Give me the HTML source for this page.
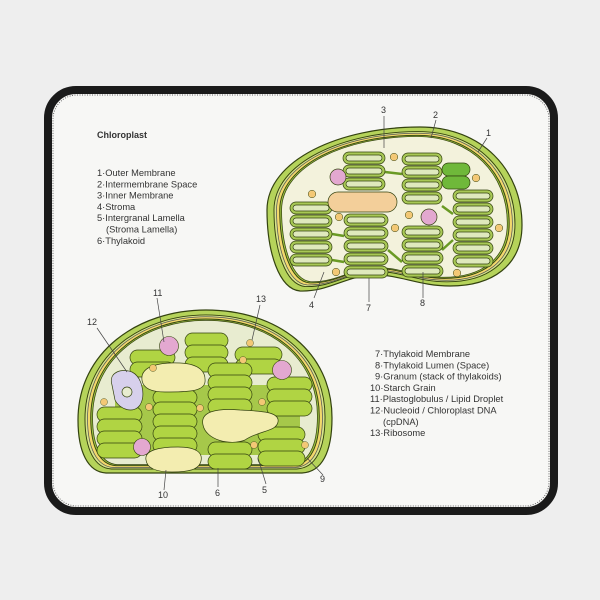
<!DOCTYPE html>
<html><head><meta charset="utf-8"><style>
body{margin:0;background:#eeeeee}
svg{display:block}
text{font-family:"Liberation Sans",sans-serif;fill:#333}
</style></head><body>
<svg width="600" height="600" viewBox="0 0 600 600" xmlns="http://www.w3.org/2000/svg">
<defs>
<path id="top" d="M267,210 C267,160 340,127 420,127 C482,127 522,170 522,225 C522,266 492,286 450,286 C420,286 400,275 376,275 C346,275 330,292 300,291 C279,289 267,252 267,210 Z"/>
<path id="bot" d="M78,420 C78,352 138,310 206,310 C278,310 332,352 332,418 C332,452 322,472 302,473 L106,473 C88,472 78,452 78,420 Z"/>
</defs>
<rect x="0" y="0" width="600" height="600" fill="#eeeeee"/>
<rect x="48" y="90" width="506" height="421" rx="28" fill="#f7f7f5" stroke="#1a1a1a" stroke-width="8"/>
<rect x="53" y="95" width="496" height="411" rx="24" fill="none" stroke="#666" stroke-width="1" stroke-dasharray="1 1.5"/>

<text x="97" y="138" font-size="9" font-weight="bold">Chloroplast</text>
<g font-size="9.3">
<text x="97" y="176">1·Outer Membrane</text>
<text x="97" y="187.3">2·Intermembrane Space</text>
<text x="97" y="198.6">3·Inner Membrane</text>
<text x="97" y="209.9">4·Stroma</text>
<text x="97" y="221.2">5·Intergranal Lamella</text>
<text x="106" y="232.5">(Stroma Lamella)</text>
<text x="97" y="243.8">6·Thylakoid</text>
<text x="375" y="357">7·Thylakoid Membrane</text>
<text x="375" y="368.3">8·Thylakoid Lumen (Space)</text>
<text x="375" y="379.6">9·Granum (stack of thylakoids)</text>
<text x="370" y="390.9">10·Starch Grain</text>
<text x="370" y="402.2">11·Plastoglobulus / Lipid Droplet</text>
<text x="370" y="413.5">12·Nucleoid / Chloroplast DNA</text>
<text x="383" y="424.8">(cpDNA)</text>
<text x="370" y="436.1">13·Ribosome</text>
</g>

<!-- TOP CHLOROPLAST -->
<use href="#top" fill="#b5d35a" stroke="#33420f" stroke-width="1.2"/>
<g transform="translate(394,210) scale(0.945) translate(-394,-210)"><use href="#top" fill="#d8e48a" stroke="#33420f" stroke-width="1"/></g>
<g transform="translate(394,210) scale(0.925) translate(-394,-210)"><use href="#top" fill="#f2d86c" stroke="#555" stroke-width="0.8"/></g>
<g transform="translate(394,210) scale(0.9) translate(-394,-210)"><use href="#top" fill="#9cc040" stroke="#33420f" stroke-width="1"/></g>
<g transform="translate(394,210) scale(0.885) translate(-394,-210)"><use href="#top" fill="#f3f2dc" stroke="#33420f" stroke-width="0.8"/></g>
<g stroke="#6a9a24" stroke-width="2.5" fill="none">
<path d="M385,172 L402,174"/><path d="M332,234 L344,236"/><path d="M388,250 L402,262"/><path d="M442,250 L453,240"/><path d="M442,206 L453,214"/><path d="M332,260 L344,262"/>
</g>
<g stroke="#33420f" stroke-width="0.7">
<g fill="#a8c855">
<rect x="343" y="152" width="42" height="12" rx="6"/><rect x="343" y="165" width="42" height="12" rx="6"/><rect x="343" y="178" width="42" height="12" rx="6"/>
<rect x="402" y="153" width="40" height="12" rx="6"/><rect x="402" y="166" width="40" height="12" rx="6"/><rect x="402" y="179" width="40" height="12" rx="6"/><rect x="402" y="192" width="40" height="12" rx="6"/>
<rect x="453" y="190" width="40" height="12" rx="6"/><rect x="453" y="203" width="40" height="12" rx="6"/><rect x="453" y="216" width="40" height="12" rx="6"/><rect x="453" y="229" width="40" height="12" rx="6"/><rect x="453" y="242" width="40" height="12" rx="6"/><rect x="453" y="255" width="40" height="12" rx="6"/>
<rect x="290" y="202" width="42" height="12" rx="6"/><rect x="290" y="215" width="42" height="12" rx="6"/><rect x="290" y="228" width="42" height="12" rx="6"/><rect x="290" y="241" width="42" height="12" rx="6"/><rect x="290" y="254" width="42" height="12" rx="6"/>
<rect x="344" y="214" width="44" height="12" rx="6"/><rect x="344" y="227" width="44" height="12" rx="6"/><rect x="344" y="240" width="44" height="12" rx="6"/><rect x="344" y="253" width="44" height="12" rx="6"/><rect x="344" y="266" width="44" height="12" rx="6"/>
<rect x="402" y="226" width="41" height="12" rx="6"/><rect x="402" y="239" width="41" height="12" rx="6"/><rect x="402" y="252" width="41" height="12" rx="6"/><rect x="402" y="265" width="41" height="12" rx="6"/>
</g>
<g fill="#dfe9bd">
<rect x="346" y="155" width="36" height="6" rx="3"/><rect x="346" y="168" width="36" height="6" rx="3"/><rect x="346" y="181" width="36" height="6" rx="3"/>
<rect x="405" y="156" width="34" height="6" rx="3"/><rect x="405" y="169" width="34" height="6" rx="3"/><rect x="405" y="182" width="34" height="6" rx="3"/><rect x="405" y="195" width="34" height="6" rx="3"/>
<rect x="456" y="193" width="34" height="6" rx="3"/><rect x="456" y="206" width="34" height="6" rx="3"/><rect x="456" y="219" width="34" height="6" rx="3"/><rect x="456" y="232" width="34" height="6" rx="3"/><rect x="456" y="245" width="34" height="6" rx="3"/><rect x="456" y="258" width="34" height="6" rx="3"/>
<rect x="293" y="205" width="36" height="6" rx="3"/><rect x="293" y="218" width="36" height="6" rx="3"/><rect x="293" y="231" width="36" height="6" rx="3"/><rect x="293" y="244" width="36" height="6" rx="3"/><rect x="293" y="257" width="36" height="6" rx="3"/>
<rect x="347" y="217" width="38" height="6" rx="3"/><rect x="347" y="230" width="38" height="6" rx="3"/><rect x="347" y="243" width="38" height="6" rx="3"/><rect x="347" y="256" width="38" height="6" rx="3"/><rect x="347" y="269" width="38" height="6" rx="3"/>
<rect x="405" y="229" width="35" height="6" rx="3"/><rect x="405" y="242" width="35" height="6" rx="3"/><rect x="405" y="255" width="35" height="6" rx="3"/><rect x="405" y="268" width="35" height="6" rx="3"/>
</g>
<rect x="442" y="163" width="28" height="13" rx="6.5" fill="#6fb83a"/><rect x="442" y="176" width="28" height="13" rx="6.5" fill="#6fb83a"/>
<rect x="328" y="192" width="69" height="20" rx="10" fill="#f3cf9a"/>
<circle cx="338" cy="177" r="8" fill="#e3a8d0"/><circle cx="429" cy="217" r="8" fill="#e3a8d0"/>
<g fill="#f3c875" stroke-width="0.5">
<circle cx="394" cy="157" r="3.8"/><circle cx="312" cy="194" r="3.8"/><circle cx="339" cy="217" r="3.8"/><circle cx="409" cy="215" r="3.8"/><circle cx="395" cy="228" r="3.8"/><circle cx="336" cy="272" r="3.8"/><circle cx="457" cy="273" r="3.8"/><circle cx="499" cy="228" r="3.8"/><circle cx="476" cy="178" r="3.8"/>
</g>
</g>

<!-- BOTTOM CHLOROPLAST -->
<use href="#bot" fill="#b5d35a" stroke="#33420f" stroke-width="1.2"/>
<g transform="translate(205,400) scale(0.945) translate(-205,-400)"><use href="#bot" fill="#d8e48a" stroke="#33420f" stroke-width="1"/></g>
<g transform="translate(205,400) scale(0.925) translate(-205,-400)"><use href="#bot" fill="#f2d86c" stroke="#555" stroke-width="0.8"/></g>
<g transform="translate(205,400) scale(0.9) translate(-205,-400)"><use href="#bot" fill="#9cc040" stroke="#33420f" stroke-width="1"/></g>
<g transform="translate(205,400) scale(0.885) translate(-205,-400)"><use href="#bot" fill="#e8ecd0" stroke="#33420f" stroke-width="0.8"/></g>
<rect x="115" y="385" width="185" height="70" fill="#a6c84a"/>
<g stroke="#33420f" stroke-width="0.7" fill="#b0d443">
<rect x="130" y="350" width="45" height="15" rx="7.5"/><rect x="130" y="362" width="45" height="15" rx="7.5"/>
<rect x="185" y="333" width="43" height="15" rx="7.5"/><rect x="185" y="345" width="43" height="15" rx="7.5"/><rect x="185" y="357" width="43" height="15" rx="7.5"/>
<rect x="235" y="347" width="47" height="15" rx="7.5"/><rect x="235" y="359" width="47" height="15" rx="7.5"/>
<rect x="97" y="407" width="45" height="15" rx="7.5"/><rect x="97" y="419" width="45" height="15" rx="7.5"/><rect x="97" y="431" width="45" height="15" rx="7.5"/><rect x="97" y="443" width="45" height="15" rx="7.5"/>
<rect x="153" y="390" width="44" height="15" rx="7.5"/><rect x="153" y="402" width="44" height="15" rx="7.5"/><rect x="153" y="414" width="44" height="15" rx="7.5"/><rect x="153" y="426" width="44" height="15" rx="7.5"/><rect x="153" y="438" width="44" height="15" rx="7.5"/>
<rect x="208" y="363" width="44" height="15" rx="7.5"/><rect x="208" y="375" width="44" height="15" rx="7.5"/><rect x="208" y="387" width="44" height="15" rx="7.5"/><rect x="208" y="399" width="44" height="15" rx="7.5"/>
<rect x="208" y="442" width="44" height="15" rx="7.5"/><rect x="208" y="454" width="44" height="15" rx="7.5"/>
<rect x="267" y="377" width="45" height="15" rx="7.5"/><rect x="267" y="389" width="45" height="15" rx="7.5"/><rect x="267" y="401" width="45" height="15" rx="7.5"/>
<rect x="258" y="427" width="47" height="15" rx="7.5"/><rect x="258" y="439" width="47" height="15" rx="7.5"/><rect x="258" y="451" width="47" height="15" rx="7.5"/>
</g>
<g stroke="#33420f" stroke-width="0.7" fill="#f3edb0">
<path d="M142,380 C140,366 160,362 180,363 C200,364 206,372 205,382 C204,392 185,392 165,392 C150,392 143,388 142,380 Z"/>
<path d="M203,425 C200,412 215,408 240,410 C262,411 280,412 278,422 C276,432 260,430 245,440 C230,446 206,440 203,425 Z"/>
<path d="M146,460 C144,450 160,447 178,447 C195,447 203,452 201,461 C199,470 188,472 172,472 C156,472 147,468 146,460 Z"/>
<path d="M112,385 C108,372 122,368 132,372 C142,377 146,395 140,405 C134,414 120,410 115,400 Z" fill="#d7d0ec"/>
<circle cx="127" cy="392" r="5" fill="#e8ecd0"/>
</g>
<g stroke="#33420f" stroke-width="0.6">
<circle cx="169" cy="346" r="9.5" fill="#e3a8d0"/><circle cx="282" cy="370" r="9.5" fill="#e3a8d0"/><circle cx="142" cy="447" r="8.5" fill="#e3a8d0"/>
<g fill="#f3c875" stroke-width="0.4">
<circle cx="250" cy="343" r="3.5"/><circle cx="243" cy="360" r="3.5"/><circle cx="153" cy="368" r="3.5"/><circle cx="104" cy="402" r="3.5"/><circle cx="149" cy="407" r="3.5"/><circle cx="200" cy="408" r="3.5"/><circle cx="262" cy="402" r="3.5"/><circle cx="254" cy="445" r="3.5"/><circle cx="305" cy="445" r="3.5"/>
</g>
</g>

<g stroke="#444" stroke-width="0.7" fill="none">
<line x1="384" y1="116" x2="384" y2="148"/>
<line x1="436" y1="120" x2="431" y2="138"/>
<line x1="487" y1="138" x2="478" y2="152"/>
<line x1="314" y1="298" x2="324" y2="272"/>
<line x1="369" y1="302" x2="369" y2="278"/>
<line x1="423" y1="298" x2="423" y2="272"/>
<line x1="157" y1="298" x2="164" y2="342"/>
<line x1="260" y1="305" x2="252" y2="340"/>
<line x1="97" y1="328" x2="127" y2="372"/>
<line x1="164" y1="490" x2="166" y2="470"/>
<line x1="218" y1="487" x2="218" y2="468"/>
<line x1="266" y1="484" x2="258" y2="458"/>
<line x1="323" y1="475" x2="307" y2="458"/>
</g>
<g font-size="9" fill="#333">
<text x="381" y="113">3</text><text x="433" y="118">2</text><text x="486" y="136">1</text>
<text x="309" y="308">4</text><text x="366" y="311">7</text><text x="420" y="306">8</text>
<text x="153" y="296">11</text><text x="256" y="302">13</text><text x="87" y="325">12</text>
<text x="158" y="498">10</text><text x="215" y="496">6</text><text x="262" y="493">5</text><text x="320" y="482">9</text>
</g>
</svg>
</body></html>
